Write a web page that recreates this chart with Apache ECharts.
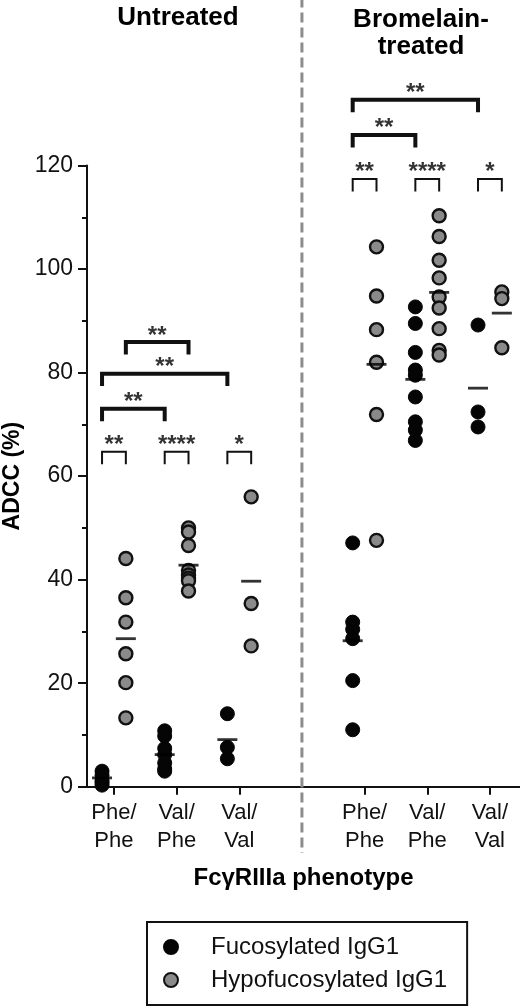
<!DOCTYPE html>
<html>
<head>
<meta charset="utf-8">
<script src="https://cdn.jsdelivr.net/npm/echarts@6/dist/echarts.min.js"></script>
<style>
	html, body { margin: 0; padding: 0; background: #fff; }
	#main { width: 520px; height: 1008px; }
</style>
</head>
<body>
<div id="main"></div>
<script>
// genotype groups and treatments
var categories = ['Phe/Phe', 'Val/Phe', 'Val/Val'];
var treatments = ['Untreated', 'Bromelain-\ntreated'];
var treatmentBase = [1, 5];

// ADCC (%) per donor, one list per genotype
var fucUntreated = [
	[3.0, 2.2, 1.2, 0.8, 0.3],
	[10.8, 9.8, 7.4, 6.2, 4.6, 3.4, 3.0],
	[14.1, 7.6, 5.4]
];
var hypoUntreated = [
	[44.1, 36.5, 31.8, 25.7, 20.1, 13.3],
	[50.0, 49.2, 46.6, 41.8, 40.9, 40.3, 39.8, 37.8],
	[56.0, 35.4, 27.2]
];
var fucBromelain = [
	[47.1, 31.8, 30.4, 28.6, 20.5, 11.0],
	[92.7, 89.5, 83.9, 80.5, 79.5, 75.3, 70.5, 68.9, 66.9],
	[89.2, 72.4, 69.5]
];
var hypoBromelain = [
	[104.3, 94.8, 88.3, 82.0, 71.9, 47.6],
	[110.3, 106.3, 101.7, 98.3, 94.6, 92.5, 88.5, 84.3, 83.4],
	[95.6, 94.3, 84.8]
];

// group means (horizontal bars)
var meanFucUntreated = [1.7, 6.2, 9.1];
var meanHypoUntreated = [28.6, 42.8, 39.7];
var meanFucBromelain = [28.2, 78.7, 77.0];
var meanHypoBromelain = [81.6, 95.5, 91.5];

// significance brackets: [treatment, cat1, kind1, cat2, kind2, height, stars, heavy]
var brackets = [
	[0, 0, 'f', 0, 'h', 64.7, '**', 0],
	[0, 1, 'f', 1, 'h', 64.7, '****', 0],
	[0, 2, 'f', 2, 'h', 64.7, '*', 0],
	[0, 0, 'f', 1, 'f', 73.0, '**', 1],
	[0, 0, 'f', 2, 'f', 79.8, '**', 1],
	[0, 0, 'h', 1, 'h', 85.9, '**', 1],
	[1, 0, 'f', 0, 'h', 117.4, '**', 0],
	[1, 1, 'f', 1, 'h', 117.4, '****', 0],
	[1, 2, 'f', 2, 'h', 117.4, '*', 0],
	[1, 0, 'f', 1, 'f', 125.9, '**', 1],
	[1, 0, 'f', 2, 'f', 132.7, '**', 1]
];

var FONT = '"Liberation Sans", Arial, Helvetica, sans-serif';
var OFF = 0.19;

function xOf(t, c, kind) {
	return treatmentBase[t] + c + (kind == 'f' ? -OFF : OFF);
}

function toPoints(list, t, kind) {
	var out = [];
	for (var c = 0; c < list.length; c++) {
		for (var i = 0; i < list[c].length; i++) {
			out.push([xOf(t, c, kind), list[c][i]]);
		}
	}
	return out;
}

function toMeans(list, t, kind) {
	var out = [];
	for (var c = 0; c < list.length; c++) {
		out.push([xOf(t, c, kind), list[c]]);
	}
	return out;
}

function buildSeries() {
	var fucPoints = toPoints(fucUntreated, 0, 'f').concat(toPoints(fucBromelain, 1, 'f'));
	var hypoPoints = toPoints(hypoUntreated, 0, 'h').concat(toPoints(hypoBromelain, 1, 'h'));
	var meanPoints = toMeans(meanFucUntreated, 0, 'f').concat(toMeans(meanHypoUntreated, 0, 'h'),
		toMeans(meanFucBromelain, 1, 'f'), toMeans(meanHypoBromelain, 1, 'h'));
	var list = [];
	// dashed separator between treatments
	list.push({
		type: 'line',
		data: [[4, 152.5], [4, -12.8]],
		symbol: 'none',
		clip: false,
		silent: true,
		lineStyle: { color: '#8c8c8c', width: 3, type: [10, 5] },
		z: 1
	});
	var starData = [];
	for (var b = 0; b < brackets.length; b++) {
		var br = brackets[b];
		var x1 = xOf(br[0], br[1], br[2]);
		var x2 = xOf(br[0], br[3], br[4]);
		var yTop = br[5];
		list.push({
			type: 'line',
			data: [[x1, yTop - 2.4], [x1, yTop], [x2, yTop], [x2, yTop - 2.4]],
			symbol: 'none',
			clip: false,
			silent: true,
			lineStyle: { color: '#111', width: br[7] ? 4 : 2, join: 'miter', cap: 'butt' },
			z: 2
		});
		starData.push({ value: [(x1 + x2) / 2, yTop + 1.2], name: br[6] });
	}
	list.push({
		type: 'scatter',
		data: starData,
		symbolSize: 1,
		clip: false,
		silent: true,
		itemStyle: { color: 'rgba(0,0,0,0)' },
		label: {
			show: true,
			position: 'inside',
			formatter: '{b}',
			fontFamily: FONT,
			fontSize: 24,
			fontWeight: 'bold',
			color: '#000'
		},
		z: 5
	});
	list.push({
		name: 'Fucosylated IgG1',
		type: 'scatter',
		data: fucPoints,
		symbol: 'circle',
		symbolSize: 14,
		clip: false,
		itemStyle: { color: '#050505', borderColor: '#050505', borderWidth: 1, opacity: 1 },
		z: 3
	});
	list.push({
		name: 'Hypofucosylated IgG1',
		type: 'scatter',
		data: hypoPoints,
		symbol: 'circle',
		symbolSize: 13,
		clip: false,
		itemStyle: { color: '#8a8a8a', borderColor: '#111', borderWidth: 2.4, opacity: 1 },
		z: 3
	});
	list.push({
		type: 'scatter',
		data: meanPoints,
		symbol: 'rect',
		symbolSize: [20, 2.8],
		clip: false,
		silent: true,
		itemStyle: { color: '#000' },
		z: 4
	});
	return list;
}

var myChart = echarts.init(document.getElementById('main'));
var option = {
	animation: false,
	backgroundColor: '#fff',
	textStyle: { fontFamily: FONT },
	graphic: [
		{
			type: 'text', x: 178, y: 17.5,
			style: { text: treatments[0], fontFamily: FONT, fontSize: 26, fontWeight: 'bold', fill: '#000', align: 'center', verticalAlign: 'middle' }
		},
		{
			type: 'text', x: 421, y: 33.5,
			style: { text: treatments[1], fontFamily: FONT, fontSize: 26, fontWeight: 'bold', lineHeight: 27, fill: '#000', align: 'center', verticalAlign: 'middle' }
		}
	],
	grid: {
		left: 87,
		right: 0,
		top: 165.6,
		bottom: 221.3,
		containLabel: false,
		outerBoundsMode: 'none'
	},
	legend: {
		orient: 'vertical',
		left: 147,
		top: 922,
		padding: [13, 20, 13, 16],
		itemGap: 9,
		itemWidth: 14,
		itemHeight: 14,
		icon: 'circle',
		borderColor: '#111',
		borderWidth: 2,
		data: ['Fucosylated IgG1', 'Hypofucosylated IgG1'],
		textStyle: { fontFamily: FONT, fontSize: 24, lineHeight: 24, color: '#111', padding: [0, 0, 0, 28] }
	},
	xAxis: {
		type: 'value',
		min: 0.57,
		max: 7.48,
		name: 'FcγRIIIa phenotype',
		nameLocation: 'middle',
		nameGap: 80,
		nameTextStyle: { fontFamily: FONT, fontSize: 24, fontWeight: 'bold', color: '#000' },
		axisLine: { show: true, onZero: false, lineStyle: { color: '#111', width: 2 } },
		axisTick: { show: true, customValues: [1, 2, 3, 5, 6, 7], length: 8, lineStyle: { color: '#111', width: 2 } },
		axisLabel: {
			customValues: [1, 2, 3, 5, 6, 7],
			margin: 12,
			fontFamily: FONT,
			fontSize: 22,
			lineHeight: 28,
			color: '#111',
			formatter: function(v) {
				return categories[(Math.round(v) - 1) % 4].replace('/', '/\n');
			}
		},
		splitLine: { show: false }
	},
	yAxis: {
		type: 'value',
		min: 0,
		max: 120,
		interval: 20,
		name: 'ADCC (%)',
		nameLocation: 'middle',
		nameRotate: 90,
		nameGap: 58,
		nameTextStyle: { fontFamily: FONT, fontSize: 23, fontWeight: 'bold', color: '#000' },
		axisLine: { show: true, lineStyle: { color: '#111', width: 2 } },
		axisTick: { show: true, length: 9, lineStyle: { color: '#111', width: 2 } },
		minorTick: { show: true, splitNumber: 2, length: 5, lineStyle: { color: '#111', width: 2 } },
		axisLabel: { margin: 14, fontFamily: FONT, fontSize: 23, color: '#111' },
		splitLine: { show: false },
		minorSplitLine: { show: false }
	},
	series: buildSeries()
};
myChart.setOption(option);//渲染
</script>
</body>
</html>
